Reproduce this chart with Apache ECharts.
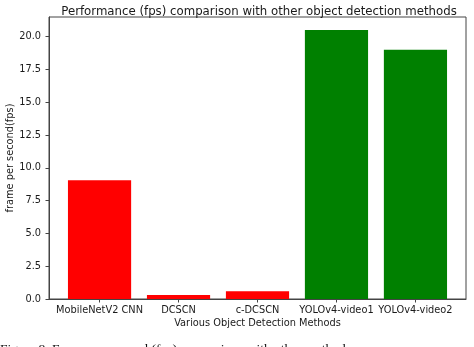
<!DOCTYPE html>
<html>
<head>
<meta charset="utf-8">
<script src="https://cdn.jsdelivr.net/npm/echarts@6/dist/echarts.min.js"></script>
<style>
html,body{margin:0;padding:0;background:#fff;}
#c{width:474px;height:347px;}
</style>
</head>
<body>
<div id="c"></div>
<script>
const categories = ['MobileNetV2 CNN', 'DCSCN', 'c-DCSCN', 'YOLOv4-video1', 'YOLOv4-video2'];
const fps = [9.05, 0.3, 0.6, 20.5, 19.0];
const barColors = ['#ff0000', '#ff0000', '#ff0000', '#008000', '#008000'];
const yTicks = [0, 2.5, 5, 7.5, 10, 12.5, 15, 17.5, 20];
const xTicks = [0, 1, 2, 3, 4];

const FONT = 'DejaVu Sans';
const chart = echarts.init(document.getElementById('c'), null, {renderer: 'canvas'});
chart.setOption({
  animation: false,
  backgroundColor: '#fff',
  title: {
    text: 'Performance (fps) comparison with other object detection methods',
    left: 254, textAlign: 'center', top: 1,
    textStyle: {fontFamily: FONT, fontSize: 11.75, fontWeight: 'normal', color: '#1a1a1a'}
  },
  grid: {left: 49, right: 8, top: 17, bottom: 48, containLabel: false, outerBoundsMode: 'none',
    show: true, borderColor: '#444', borderWidth: 1, backgroundColor: 'transparent'},
  xAxis: {
    type: 'value', min: -0.64, max: 4.64,
    name: 'Various Object Detection Methods', nameLocation: 'middle', nameGap: 19, nameMoveOverlap: false,
    nameTextStyle: {fontFamily: FONT, fontSize: 9.8, color: '#1a1a1a', verticalAlign: 'top'},
    splitLine: {show: false},
    axisLine: {show: true, onZero: false, lineStyle: {color: '#444'}},
    axisTick: {show: true, customValues: xTicks, length: 3.5, lineStyle: {color: '#444'}},
    axisLabel: {customValues: xTicks, margin: 6, fontFamily: FONT, fontSize: 9.8, color: '#1a1a1a',
      formatter: v => categories[Math.round(v)] || ''}
  },
  yAxis: {
    type: 'value', min: 0, max: 21.5,
    name: 'frame per second(fps)', nameLocation: 'middle', nameGap: 34, nameRotate: 90, nameMoveOverlap: false,
    nameTextStyle: {fontFamily: FONT, fontSize: 9.8, color: '#1a1a1a'},
    splitLine: {show: false},
    axisLine: {show: true, onZero: false, lineStyle: {color: '#444'}},
    axisTick: {show: true, customValues: yTicks, length: 3.5, lineStyle: {color: '#444'}},
    axisLabel: {customValues: yTicks, margin: 8, fontFamily: FONT, fontSize: 9.8, color: '#1a1a1a',
      formatter: v => v.toFixed(1)}
  },
  series: [{
    type: 'bar',
    barWidth: '80%',
    data: fps.map((v, i) => ({value: [i, v], itemStyle: {color: barColors[i]}}))
  }],
  graphic: [{
    type: 'text', left: 0, top: 342,
    style: {text: 'Figure 8. Frame per second (fps) comparison with other methods',
      font: '13.5px "Liberation Serif"', fill: '#111'}
  }]
});
</script>
</body>
</html>
